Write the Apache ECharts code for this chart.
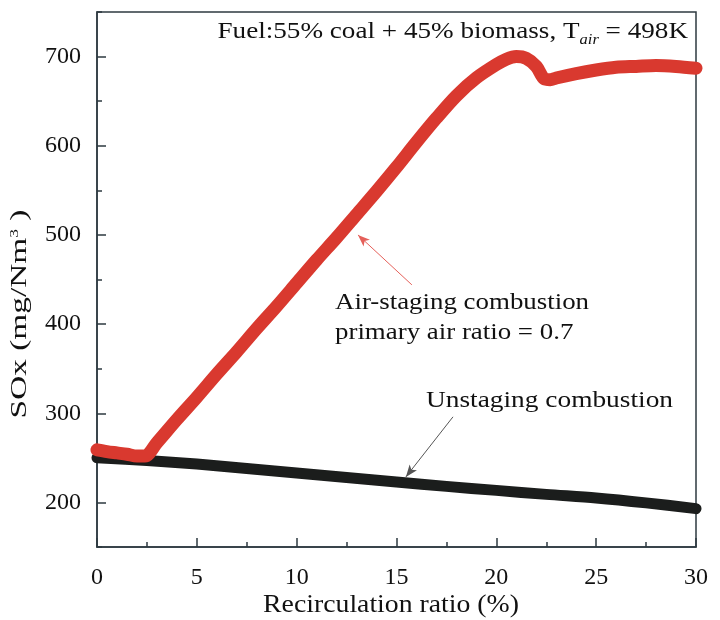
<!DOCTYPE html>
<html>
<head>
<meta charset="utf-8">
<script src="https://cdn.jsdelivr.net/npm/echarts@6/dist/echarts.min.js"></script>
<style>
  html, body { margin: 0; padding: 0; background: #fff; }
  #chart { width: 720px; height: 620px; }
</style>
</head>
<body>
<div id="chart"></div>
<script>
// air-staging combustion, primary air ratio = 0.7 (red)
const stagedX = [0, 0.5, 1, 1.5, 2, 2.4, 3, 4, 5, 6, 7, 8, 9, 10, 11, 12, 13, 14, 15, 16, 17, 18, 19, 20, 20.5, 21, 21.5, 22, 22.4, 22.7, 23, 24, 25, 26, 27, 28, 29, 30];
const stagedSOx = [259, 257, 255.5, 254, 252, 252, 267, 293, 318, 344, 369, 395, 420, 446, 472, 497, 523, 549, 576, 604, 631, 656, 676, 691, 697, 700, 698, 689, 675, 674, 676, 681, 685, 688, 689, 690, 689, 687];
// unstaging combustion (black)
const unstagedX = [0, 2.5, 5, 7.5, 10, 12.5, 15, 17.5, 20, 22.5, 25, 27.5, 30];
const unstagedSOx = [250, 247, 243, 238, 233, 228, 223, 218, 213.5, 209, 205, 199.5, 193];

// annotation arrows [from, to] in data units
const stagedArrow = [[15.77, 444], [13.07, 500]];
const unstagedArrow = [[17.83, 296], [15.47, 228.6]];

const serif = '"Liberation Serif", "DejaVu Serif", serif';
const axisColor = '#2e3a40';

var myChart = echarts.init(document.getElementById('chart'));

const option = {
  animation: false,
  textStyle: { fontFamily: serif },
  grid: {
    left: 97, right: 24, top: 12, bottom: 73,
    show: true, borderColor: axisColor, borderWidth: 1.5, backgroundColor: 'transparent'
  },
  xAxis: {
    type: 'value',
    min: 0, max: 30, interval: 5,
    axisLine: { show: true, lineStyle: { color: axisColor, width: 1.5 } },
    axisTick: { show: true, inside: true, length: 9, lineStyle: { color: axisColor, width: 1.5 } },
    minorTick: { show: true, splitNumber: 2, length: 5, lineStyle: { color: axisColor, width: 1.5 } },
    axisLabel: { margin: 19, fontSize: 24, color: '#111', fontFamily: serif },
    splitLine: { show: false }
  },
  yAxis: [
    {
      // major ticks 200..700 (auto interval forced to 100)
      type: 'value',
      min: 150, max: 750,
      splitNumber: 6, minInterval: 100, maxInterval: 100,
      axisLine: { show: true, lineStyle: { color: axisColor, width: 1.5 } },
      axisTick: { show: true, inside: true, length: 9, lineStyle: { color: axisColor, width: 1.5 } },
      axisLabel: { margin: 16, fontSize: 24, color: '#111', fontFamily: serif,
        showMinLabel: false, showMaxLabel: false },
      splitLine: { show: false }
    },
    {
      // minor ticks 150, 250, ... 750
      type: 'value',
      min: 150, max: 750, interval: 100,
      position: 'left',
      axisLine: { show: false },
      axisTick: { show: true, inside: true, length: 5, lineStyle: { color: axisColor, width: 1.5 } },
      axisLabel: { show: false },
      splitLine: { show: false }
    }
  ],
  series: [
    {
      name: 'Unstaging combustion',
      type: 'line',
      data: unstagedX.map((x, i) => [x, unstagedSOx[i]]),
      showSymbol: false,
      smooth: 0.3,
      lineStyle: { color: '#1b1d1c', width: 11, cap: 'round', join: 'round' },
      markLine: {
        silent: true,
        symbol: ['none', 'arrow'],
        symbolSize: [7, 12],
        label: { show: false },
        lineStyle: { color: '#555', width: 1, type: 'solid' },
        data: [[{ coord: unstagedArrow[0] }, { coord: unstagedArrow[1] }]]
      },
      z: 2
    },
    {
      name: 'Air-staging combustion',
      type: 'line',
      data: stagedX.map((x, i) => [x, stagedSOx[i]]),
      showSymbol: false,
      smooth: 0.3,
      lineStyle: { color: '#d9392f', width: 13, cap: 'round', join: 'round' },
      markLine: {
        silent: true,
        symbol: ['none', 'arrow'],
        symbolSize: [7, 12],
        label: { show: false },
        lineStyle: { color: '#e5605a', width: 1, type: 'solid' },
        data: [[{ coord: stagedArrow[0] }, { coord: stagedArrow[1] }]]
      },
      z: 3
    }
  ],
  graphic: [
    {
      type: 'text',
      x: 688, y: 32, scaleX: 1.18,
      style: {
        text: 'Fuel:55% coal + 45% biomass, T{sub|air} = 498K',
        font: '23px ' + serif,
        fill: '#111',
        align: 'right', verticalAlign: 'middle',
        lineHeight: 30,
        rich: {
          sub: { fontSize: 14, fontStyle: 'italic', verticalAlign: 'bottom', lineHeight: 14, fontFamily: serif, fill: '#111' }
        }
      }
    },
    {
      type: 'text',
      x: 335, y: 288, scaleX: 1.12,
      style: {
        text: 'Air-staging combustion\nprimary air ratio = 0.7',
        font: '24px ' + serif,
        fill: '#111',
        align: 'left', verticalAlign: 'top',
        lineHeight: 30
      }
    },
    {
      type: 'text',
      x: 426, y: 389, scaleX: 1.14,
      style: {
        text: 'Unstaging combustion',
        font: '24px ' + serif,
        fill: '#111',
        align: 'left', verticalAlign: 'top'
      }
    },
    {
      // x axis title
      type: 'text',
      x: 391, y: 605, scaleX: 1.11,
      style: {
        text: 'Recirculation ratio (%)',
        font: '25px ' + serif,
        fill: '#111',
        align: 'center', verticalAlign: 'middle'
      }
    },
    {
      // y axis title
      type: 'text',
      x: 20, y: 314, rotation: Math.PI / 2, scaleX: 1.45,
      style: {
        text: 'SOx (mg/Nm{sup|3} )',
        font: '23px ' + serif,
        fill: '#111',
        align: 'center', verticalAlign: 'middle',
        rich: {
          sup: { fontSize: 12, verticalAlign: 'top', fontFamily: serif, fill: '#111' }
        }
      }
    }
  ]
};

myChart.setOption(option);
</script>
</body>
</html>
